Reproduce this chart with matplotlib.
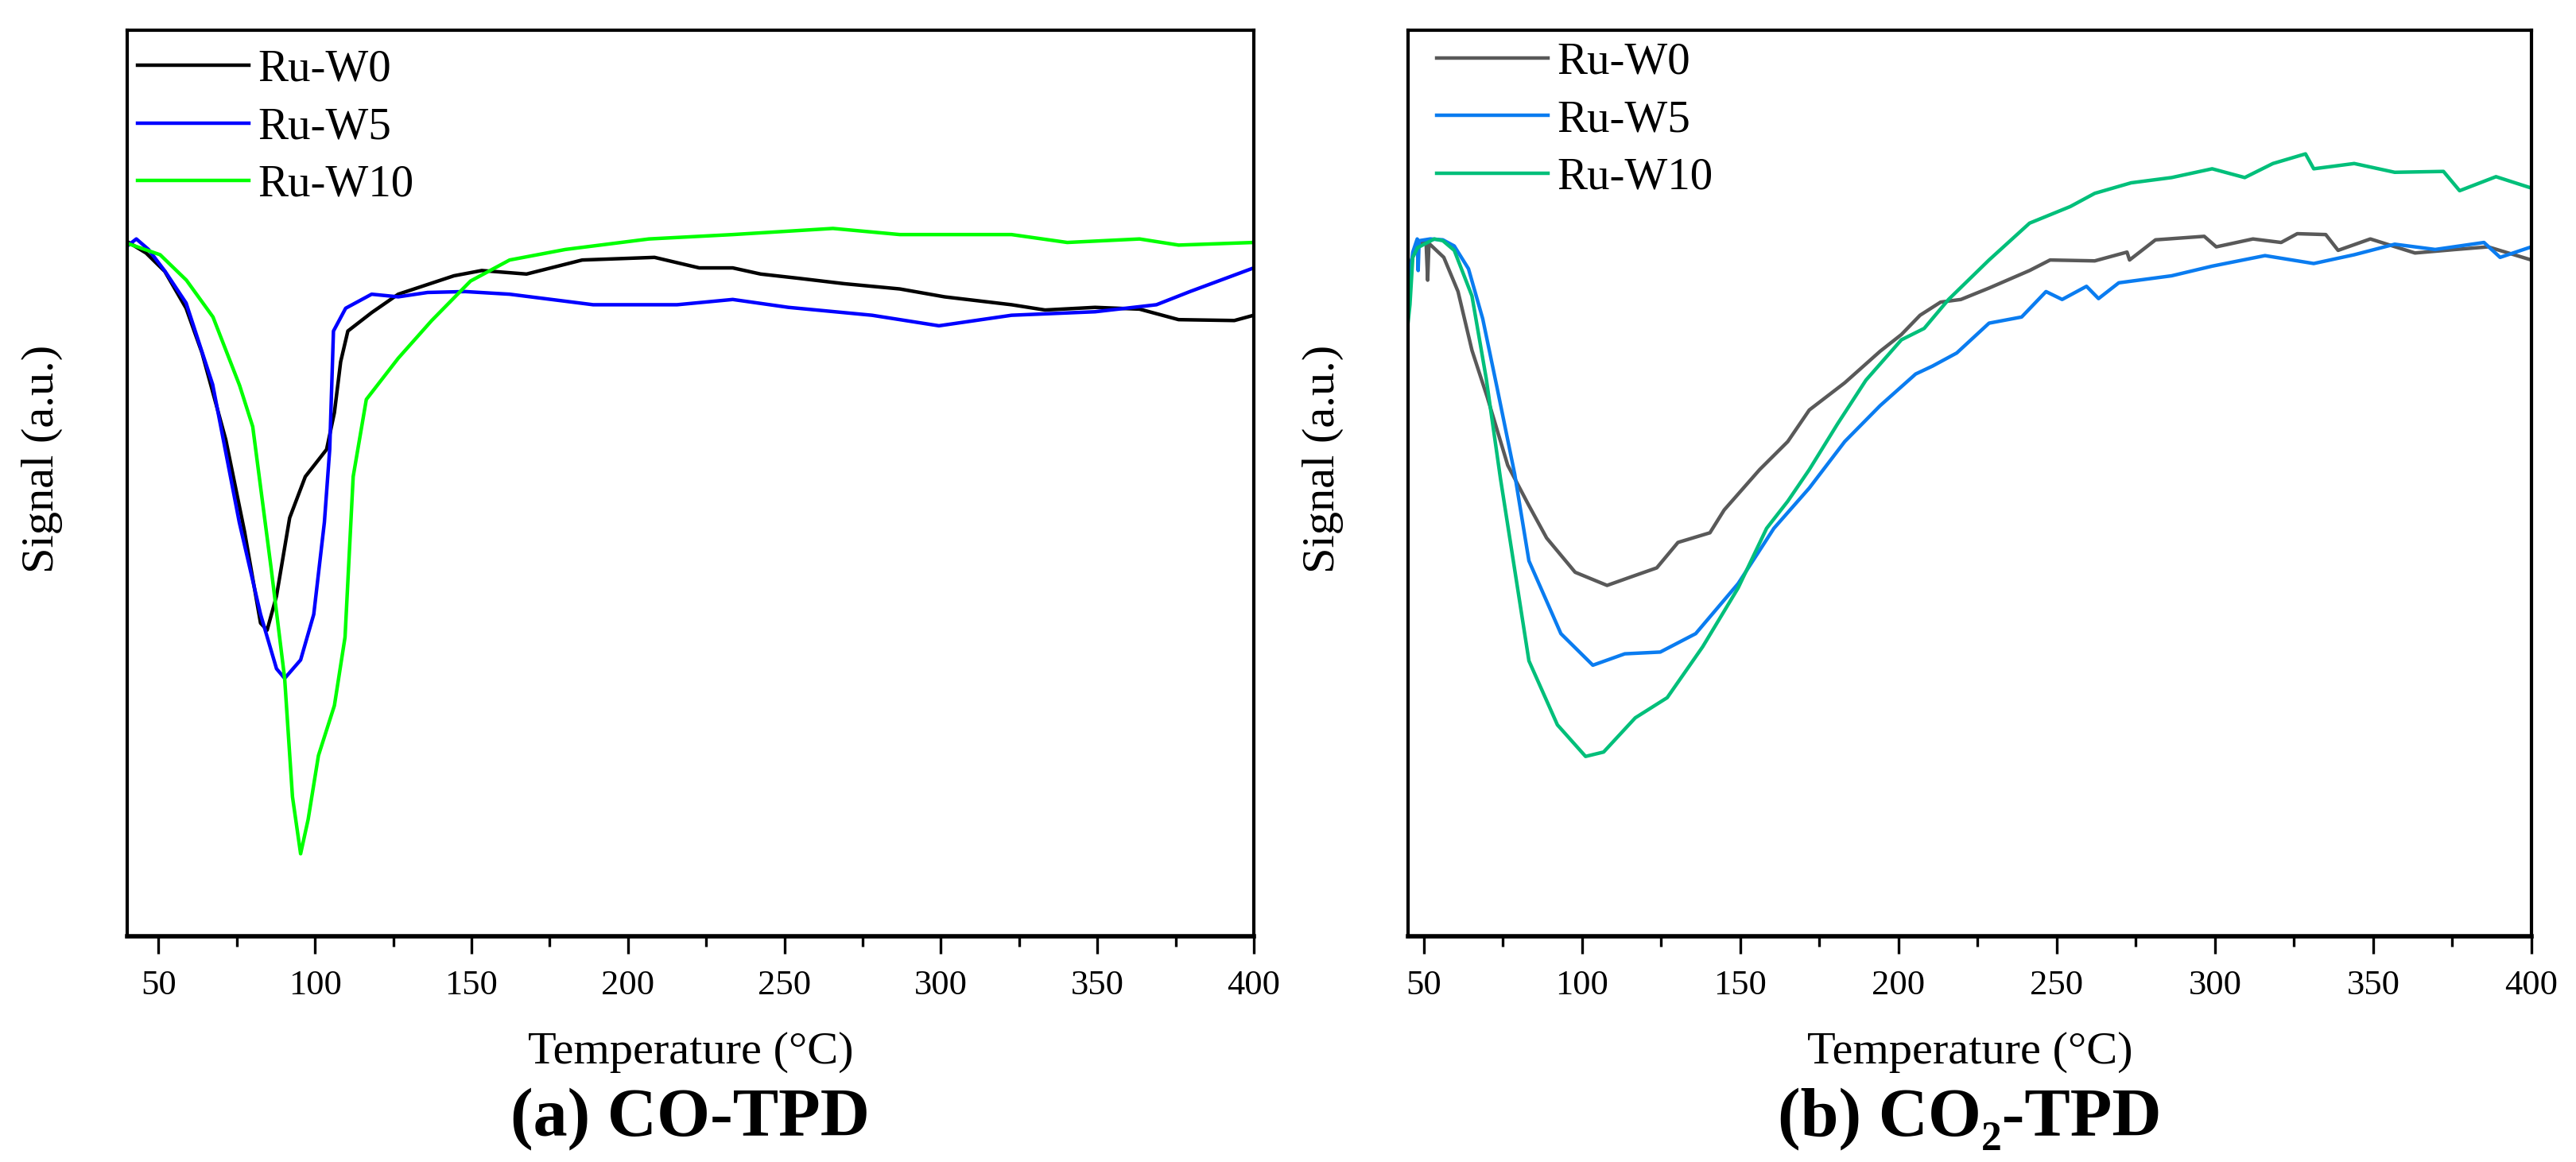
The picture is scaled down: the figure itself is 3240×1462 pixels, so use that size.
import numpy as np
import matplotlib
matplotlib.use("Agg")
import matplotlib.pyplot as plt
from matplotlib.ticker import MultipleLocator

plt.rcParams['font.family'] = ['Liberation Serif', 'DejaVu Serif']

# --- data (signal in arbitrary units) ---
labels = ["Ru-W0", "Ru-W5", "Ru-W10"]

# (a) CO-TPD
t_w0_co = [40, 46, 52, 58.8, 63.9, 71.5, 77.5, 82.6, 84.7, 87.7, 91.9, 96.9, 103.7, 106.2, 108.2,
           110.5, 118.1, 126.6, 144.4, 153.3, 167.6, 185.4, 208.5, 222.8, 233.5, 242.4, 254.9,
           269.1, 286.9, 301.2, 322.6, 333.3, 349.3, 363.5, 376.0, 393.8, 400]
s_w0_co = [79.2, 77.9, 75.8, 71.6, 66.5, 56.6, 46.1, 35.7, 34.9, 38.8, 47.7, 52.4, 55.5, 59.7, 65.5,
           69.0, 71.1, 73.2, 75.3, 75.9, 75.5, 77.1, 77.4, 76.2, 76.2, 75.5, 75.0,
           74.4, 73.8, 72.9, 72.0, 71.4, 71.7, 71.5, 70.3, 70.2, 70.8]

t_w5_co = [40, 42.9, 46.8, 52.1, 58.8, 67.3, 75.8, 82.6, 87.7, 90.3, 95.4, 99.6, 103.0, 104.7, 105.9,
           109.8, 118.1, 126.6, 136, 148.0, 162.2, 188.9, 215.7, 233.5, 251.3, 278.0, 299.4,
           322.6, 349.3, 368.9, 379.6, 400]
s_w5_co = [78.7, 79.5, 78.3, 75.8, 72.2, 62.9, 47.2, 36.7, 30.5, 29.4, 31.5, 36.7, 47.2, 55.5, 69.0,
           71.6, 73.2, 72.9, 73.4, 73.5, 73.2, 72.0, 72.0, 72.6, 71.7, 70.8, 69.6,
           70.8, 71.2, 72.0, 73.5, 76.2]

t_w10_co = [40, 50.5, 58.9, 67.4, 75.9, 80.1, 86.0, 90.3, 92.8, 95.4, 97.8, 101.1, 106.2, 109.6,
            112.2, 116.4, 126.6, 137.3, 149.7, 162.2, 180.0, 206.7, 233.5, 265.5, 286.9, 322.6,
            340.4, 363.5, 376.0, 400]
s_w10_co = [79.0, 77.7, 74.8, 70.6, 62.8, 58.1, 41.9, 29.4, 15.9, 9.4, 13.3, 20.6, 26.3, 34.1,
            52.4, 61.2, 65.9, 70.2, 74.7, 77.1, 78.3, 79.5, 80.0, 80.7, 80.0, 80.0,
            79.1, 79.5, 78.8, 79.1]

# (b) CO2-TPD
t_w0_co2 = [45, 46, 48, 50.7, 51.2, 51.6, 56.3, 60.8, 65.2, 70.0, 76.5, 83.2, 88.8, 97.8, 107.9,
            115.7, 123.6, 130.3, 140.4, 144.9, 156.1, 165.0, 171.8, 183.0, 194.2, 200.9, 206.8,
            213.3, 219.7, 228.6, 241.4, 247.9, 262.0, 272.2, 273.0, 281.2, 296.6, 300.4, 312.0,
            320.9, 326.0, 335.0, 338.9, 349.1, 363.2, 376.0, 386.3, 400]
s_w0_co2 = [73.0, 77.0, 79.0, 79.2, 74.8, 79.0, 77.4, 73.5, 66.8, 61.5, 53.7, 49.1, 45.4, 41.5, 40.0,
            41.0, 42.0, 44.9, 46.0, 48.6, 53.2, 56.4, 60.0, 63.1, 66.7, 68.6, 70.8,
            72.3, 72.6, 73.9, 75.9, 77.1, 77.0, 78.0, 77.1, 79.4, 79.8, 78.6, 79.5,
            79.1, 80.1, 80.0, 78.2, 79.5, 77.9, 78.3, 78.6, 77.1]

t_w5_co2 = [45, 46.5, 47.9, 48.2, 48.5, 52, 56, 59.6, 64.1, 68.6, 73.1, 78.7, 83.2, 88.8, 93.3,
            103.4, 113.5, 124.7, 135.9, 149.3, 160.6, 171.8, 183.0, 194.2, 205.4, 210.7, 218.4,
            228.6, 238.9, 246.6, 251.7, 259.4, 263.2, 269.6, 286.3, 299.1, 315.8, 331.2, 344.0,
            356.8, 369.6, 385.0, 390.1, 400]
s_w5_co2 = [73.5, 78.0, 79.5, 75.9, 79.3, 79.5, 79.4, 78.7, 76.1, 70.4, 62.6, 52.7, 42.8, 38.2, 34.5,
            30.9, 32.2, 32.4, 34.5, 40.2, 46.5, 51.1, 56.4, 60.5, 64.1, 65.0, 66.5,
            69.9, 70.6, 73.5, 72.6, 74.1, 72.7, 74.5, 75.3, 76.4, 77.6, 76.7, 77.7,
            78.9, 78.3, 79.1, 77.4, 78.6]

t_w10_co2 = [45, 45.6, 46.5, 48, 53.3, 56, 59.6, 65.2, 69.7, 74.2, 78.7, 83.2, 92.2, 101.1, 106.8,
             116.8, 126.9, 138.1, 149.3, 158.3, 165.0, 171.8, 180.7, 189.7, 200.9, 208.1, 215.8,
             228.6, 241.4, 254.3, 262.0, 273.5, 286.3, 299.1, 309.4, 318.3, 328.6, 331.2, 344.0,
             356.8, 372.2, 377.3, 388.8, 400]
s_w10_co2 = [70.0, 72.0, 77.4, 78.5, 79.5, 79.3, 78.2, 73.0, 63.6, 52.2, 41.8, 31.4, 24.1, 20.5, 21.0,
             24.9, 27.2, 33.0, 39.7, 46.5, 49.6, 53.2, 58.4, 63.4, 68.0, 69.3, 72.6,
             77.1, 81.3, 83.2, 84.7, 85.9, 86.5, 87.5, 86.5, 88.1, 89.2, 87.5, 88.1,
             87.1, 87.2, 85.0, 86.6, 85.3]

colors_co = ['#000000', '#0000FF', '#00FF00']
colors_co2 = ['#595959', '#0A7CF0', '#00BF7A']

fig = plt.figure(figsize=(16.2, 7.31), dpi=200)
ax1 = fig.add_axes([0.0494, 0.1943, 0.4373, 0.7797])
ax2 = fig.add_axes([0.5466, 0.1943, 0.4361, 0.7797])


def style_axis(ax, xmin, leg_x, leg_y):
    ax.set_xlim(xmin, 400)
    ax.set_ylim(0, 103.3)
    ax.xaxis.set_major_locator(MultipleLocator(50))
    ax.xaxis.set_minor_locator(MultipleLocator(25))
    ax.set_yticks([])
    ax.tick_params(axis='x', which='major', direction='out', length=8, width=1.2,
                   labelsize=16, pad=7, top=False)
    ax.tick_params(axis='x', which='minor', direction='out', length=4.5, width=1.2, top=False)
    for sp in ax.spines.values():
        sp.set_linewidth(1.5)
    ax.spines['bottom'].set_linewidth(2.0)
    ax.set_xlabel('Temperature (°C)', fontsize=21, labelpad=14)
    ax.set_ylabel('Signal (a.u.)', fontsize=21)
    ax.yaxis.set_label_coords(-0.057, 0.527)
    ax.legend(loc='upper left', bbox_to_anchor=(leg_x, leg_y), frameon=False, fontsize=20.5,
              handlelength=2.45, handletextpad=0.2, labelspacing=0.36,
              borderpad=0, borderaxespad=0)


series_co = [(t_w0_co, s_w0_co), (t_w5_co, s_w5_co), (t_w10_co, s_w10_co)]
for (t, s), c, lab in zip(series_co, colors_co, labels):
    ax1.plot(t, s, color=c, lw=1.6, label=lab)
style_axis(ax1, 40, 0.0092, 0.979)

series_co2 = [(t_w0_co2, s_w0_co2), (t_w5_co2, s_w5_co2), (t_w10_co2, s_w10_co2)]
for (t, s), c, lab in zip(series_co2, colors_co2, labels):
    ax2.plot(t, s, color=c, lw=1.6, label=lab)
style_axis(ax2, 45, 0.0255, 0.987)

# panel captions
fig.text((0.0494 + 0.4867) / 2, 0.037, '(a) CO-TPD', ha='center', va='center',
         fontsize=31, fontweight='bold')
fig.text((0.5466 + 0.9827) / 2, 0.037, '(b) CO\u2082-TPD', ha='center', va='center',
         fontsize=31, fontweight='bold')

fig.savefig('out.png', dpi=200)
